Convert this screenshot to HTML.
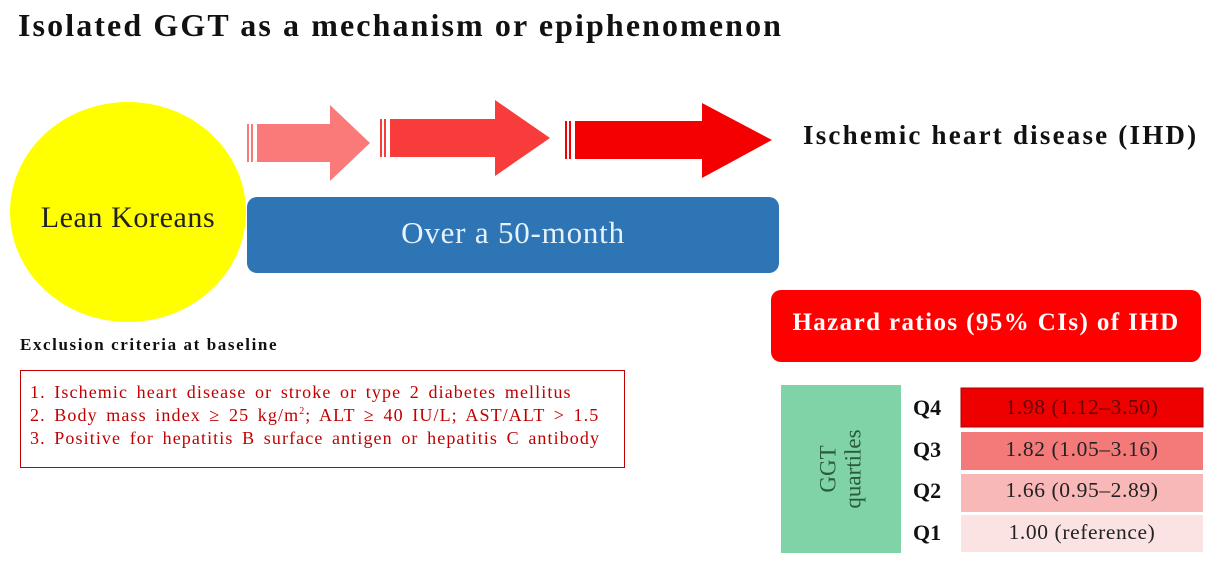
<!DOCTYPE html>
<html><head><meta charset="utf-8"><style>
body{margin:0;width:1217px;height:567px;background:#fff;position:relative;overflow:hidden;font-family:"Liberation Serif",serif}
.a{position:absolute;white-space:nowrap}
</style></head><body>
<div class="a" style="left:18px;top:7px;font-size:32px;letter-spacing:2.1px;font-weight:bold;color:#111">Isolated GGT as a mechanism or epiphenomenon</div>
<svg class="a" style="left:0;top:0" width="1217" height="567">
<ellipse cx="128" cy="212" rx="118" ry="110" fill="#ffff00"/>
<rect x="247" y="197" width="532" height="76" rx="10" fill="#2e75b6"/>
<g fill="#fa7a7a"><rect x="247" y="124" width="2" height="38"/><rect x="251" y="124" width="2" height="38"/><polygon points="257,124 330,124 330,105 370,143 330,181 330,162 257,162"/></g>
<g fill="#f83c3c"><rect x="380" y="119" width="2" height="38"/><rect x="384" y="119" width="2" height="38"/><polygon points="390,119 495,119 495,100 550,138 495,176 495,157 390,157"/></g>
<g fill="#f50000"><rect x="565" y="121" width="2" height="38"/><rect x="569" y="121" width="2" height="38"/><polygon points="575,121 702,121 702,103 772,140 702,178 702,159 575,159"/></g>
<rect x="771" y="290" width="430" height="72" rx="10" fill="#ff0000"/>
<rect x="20.5" y="370.5" width="604" height="97" fill="none" stroke="#c00000" stroke-width="1"/>
<rect x="781" y="385" width="120" height="168" fill="#7fd3a6"/>
<rect x="961" y="388" width="242" height="39" fill="#ee0000" stroke="#a00" stroke-width="1"/>
<rect x="961" y="432" width="242" height="38" fill="#f47a7a"/>
<rect x="961" y="474" width="242" height="38" fill="#f8b8b8"/>
<rect x="961" y="515" width="242" height="37" fill="#fce3e3"/>
</svg>
<div class="a" style="left:10px;top:201px;width:236px;text-align:center;font-size:30px;letter-spacing:0.6px;color:#222">Lean Koreans</div>
<div class="a" style="left:247px;top:215px;width:532px;text-align:center;font-size:31px;letter-spacing:0.8px;color:#e8f2fa">Over a 50-month</div>
<div class="a" style="left:803px;top:120px;font-size:27px;letter-spacing:2.2px;font-weight:bold;color:#111">Ischemic heart disease (IHD)</div>
<div class="a" style="left:771px;top:309px;width:430px;text-align:center;font-size:25px;letter-spacing:1.4px;font-weight:bold;color:#fff">Hazard ratios (95% CIs) of IHD</div>
<div class="a" style="left:20px;top:335px;font-size:17px;letter-spacing:1.6px;font-weight:bold;color:#111">Exclusion criteria at baseline</div>
<div class="a" style="left:30px;top:381px;font-size:18px;letter-spacing:1.1px;word-spacing:3px;line-height:23px;color:#c00000">1. Ischemic heart disease or stroke or type 2 diabetes mellitus<br>2. Body mass index ≥ 25 kg/m<sup style="font-size:10px;line-height:0">2</sup>; ALT ≥ 40 IU/L; AST/ALT &gt; 1.5<br>3. Positive for hepatitis B surface antigen or hepatitis C antibody</div>
<div class="a" style="left:781px;top:385px;width:120px;height:168px;display:flex;align-items:center;justify-content:center">
<div style="transform:rotate(-90deg);text-align:center;font-size:23px;line-height:25px;color:#2a5a3a;white-space:nowrap">GGT<br>quartiles</div></div>
<div class="a" style="left:913px;top:387px;font-size:22px;font-weight:bold;line-height:41.5px;color:#111">Q4<br>Q3<br>Q2<br>Q1</div>
<div class="a" style="left:961px;top:387px;width:242px;text-align:center;font-size:21.5px;letter-spacing:0.6px;line-height:41.5px;color:#222"><span style="color:#600">1.98 (1.12–3.50)</span><br>1.82 (1.05–3.16)<br>1.66 (0.95–2.89)<br>1.00 (reference)</div>
</body></html>
